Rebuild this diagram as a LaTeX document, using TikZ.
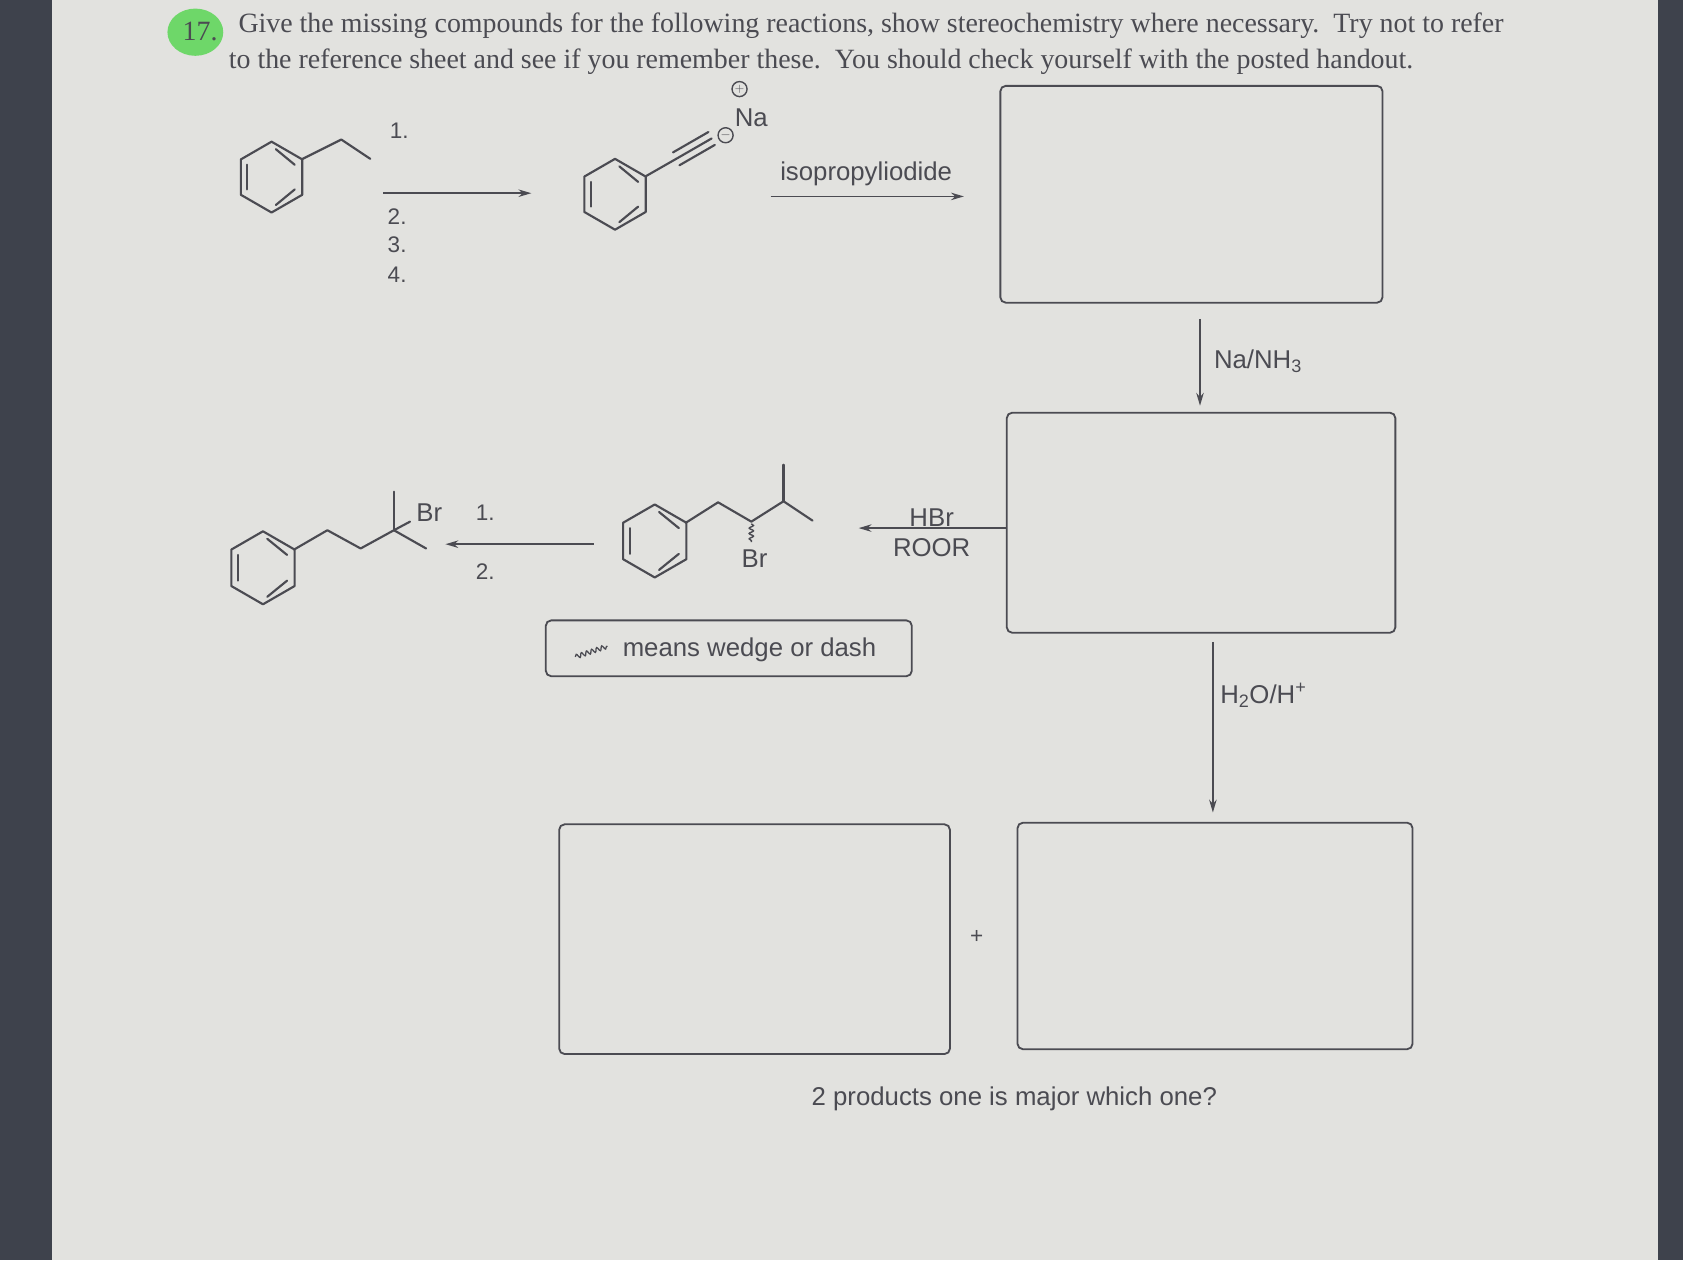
\documentclass[tikz,border=0pt]{standalone}
\usepackage{fontspec}
\setmainfont{Liberation Serif}
\setsansfont{Liberation Sans}
\usetikzlibrary{decorations.pathmorphing,arrows.meta}
\definecolor{page}{RGB}{226,226,223}
\definecolor{ink}{RGB}{75,75,82}
\definecolor{dark}{RGB}{62,66,76}
\definecolor{hl}{RGB}{110,215,105}
\tikzset{
 bond/.style={draw=ink,line width=2pt,line cap=round,line join=round},
 box/.style={draw=ink,line width=1.7pt,rounded corners=5pt},
 rx/.style={draw=ink,line width=1.6pt,-{Stealth[length=12pt,width=7pt]}},
 lab/.style={font=\sffamily\fontsize{24}{26}\selectfont,text=ink,inner sep=1pt},
 num/.style={font=\sffamily\fontsize{21}{23}\selectfont,text=ink,inner sep=1pt},
 ttl/.style={font=\fontsize{26}{28}\selectfont,text=ink,anchor=base west,inner sep=0pt}
}
\newcommand{\benz}[3]{% center x, y, r
 \draw[bond] (#1,#2-#3) -- (#1+0.866*#3,#2-0.5*#3) -- (#1+0.866*#3,#2+0.5*#3) -- (#1,#2+#3) -- (#1-0.866*#3,#2+0.5*#3) -- (#1-0.866*#3,#2-0.5*#3) -- cycle;
 \draw[bond] (#1-0.866*#3+6,#2-0.5*#3+5) -- (#1-0.866*#3+6,#2+0.5*#3-5);
 \draw[bond] (#1+4,#2+#3-7) -- (#1+0.866*#3-7,#2+0.5*#3-5);
 \draw[bond] (#1+4,#2-#3+7) -- (#1+0.866*#3-7,#2-0.5*#3+5);
}
\begin{document}
\begin{tikzpicture}[x=1pt,y=-1pt]
\useasboundingbox (0,0) rectangle (1568,1174);
\fill[page] (0,0) rectangle (1568,1174);
\fill[dark] (0,0) rectangle (48,1174);
\fill[dark] (1545,0) rectangle (1568,1174);
% header
\fill[hl] (182,30) ellipse (26 and 22);
\node[ttl] (n17) at (170,38) {17.};
\node[ttl] (t1) at (222,30) {Give the missing compounds for the following reactions, show stereochemistry where necessary.\ \ Try not to refer};
\node[ttl] (t2) at (213,64) {to the reference sheet and see if you remember these.\ \ You should check yourself with the posted handout.};
% reaction 1
\benz{253}{165}{33}
\draw[bond] (282,148) -- (318,130) -- (345,148);
\node[num] (r1) at (372,122) {1.};
\coordinate (a1s) at (357,180); \coordinate (a1e) at (495,180);
\draw[rx] (a1s) -- (a1e);
\node[num] (r2) at (370,202) {2.};
\node[num] (r3) at (370,228) {3.};
\node[num] (r4) at (370,256) {4.};
% phenylacetylide
\benz{573}{181}{33}
\draw[bond] (602,164) -- (630,148);
\draw[bond] (630,148) -- (663,129);
\draw[bond] (627,142) -- (660,123);
\draw[bond] (633,154) -- (666,135);
\node[draw=ink,circle,line width=1.3pt,minimum size=14pt,inner sep=0pt,font=\fontsize{13}{13}\selectfont,text=ink] (minus) at (676,126) {$-$};
\node[draw=ink,circle,line width=1.3pt,minimum size=14pt,inner sep=0pt,font=\fontsize{13}{13}\selectfont,text=ink] (plus) at (689,83) {$+$};
\node[lab] (na) at (700,110) {Na};
\node[lab] (ipi) at (807,162) {isopropyliodide};
\coordinate (a2s) at (718,183); \coordinate (a2e) at (898,183);
\draw[rx] (a2s) -- (a2e);
\node[box,minimum width=356pt,minimum height=202pt] (b1) at (1110,181) {};
\node[box,minimum width=362pt,minimum height=205pt] (b2) at (1119,487) {};
\coordinate (a3s) at (1118,297); \coordinate (a3e) at (1118,378);
\draw[rx] (a3s) -- (a3e);
\node[lab] (nanh) at (1172,337) {Na/NH\textsubscript{3}};
% HBr
\coordinate (a4e) at (800,492);
\draw[rx] (b2.west |- 0,492) -- (a4e);
\node[lab] (hbr) at (868,482) {HBr};
\node[lab] (roor) at (868,510) {ROOR};
% bromide
\benz{610}{504}{34}
\draw[bond] (639,487) -- (669,468) -- (700,486) -- (730,467) -- (757,485);
\draw[bond] (730,467) -- (730,433);
\draw[ink,line width=1.3pt,decorate,decoration={snake,amplitude=2pt,segment length=5pt}] (700,488) -- (700,505);
\node[lab] (br1) at (703,520) {Br};
\coordinate (a5s) at (553,507); \coordinate (a5e) at (415,507);
\draw[rx] (a5s) -- (a5e);
\node[num] (s1) at (452,478) {1.};
\node[num] (s2) at (452,533) {2.};
% tertiary bromide
\benz{245}{529}{34}
\draw[bond] (274,512) -- (305,494) -- (336,511) -- (367,494) -- (397,511);
\draw[bond] (367,494) -- (367,458);
\draw[bond] (367,494) -- (382,486);
\node[lab] (br2) at (400,478) {Br};
% note
\node[box,minimum width=341pt,minimum height=52pt] (note) at (679,604) {};
\draw[ink,line width=1.2pt,decorate,decoration={snake,amplitude=2pt,segment length=5pt}] (536,612) -- (566,602);
\node[lab,anchor=west] (nt) at (579,605) {means wedge or dash};
% hydration
\coordinate (a6s) at (1130,598); \coordinate (a6e) at (1130,757);
\draw[rx] (a6s) -- (a6e);
\node[lab] (h2o) at (1177,648) {H\textsubscript{2}O/H\textsuperscript{+}};
\node[box,minimum width=364pt,minimum height=214pt] (b3) at (703,875) {};
\node[box,minimum width=368pt,minimum height=211pt] (b4) at (1132,872) {};
\node[num] (pl) at (910,873) {+};
\node[lab] (q) at (945,1024) {2 products one is major which one?};
\end{tikzpicture}
\end{document}
